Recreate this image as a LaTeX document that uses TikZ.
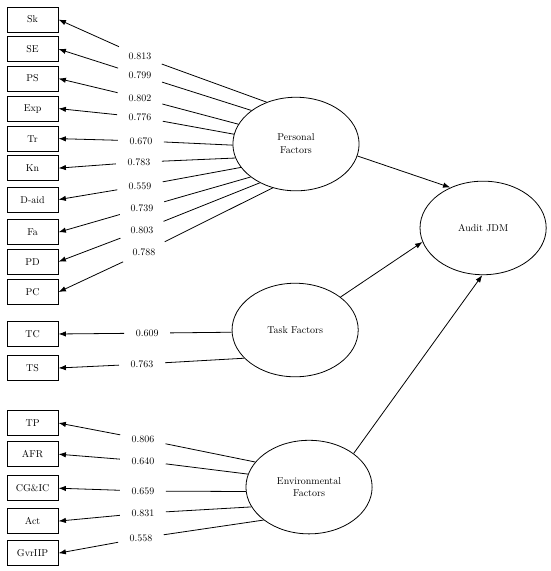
\documentclass[tikz,border=0pt]{standalone}
\usepackage{amsmath}
\usetikzlibrary{arrows, arrows.meta}
\usetikzlibrary{shapes.geometric}

\begin{document}
\begin{tikzpicture}[
    ind/.style={rectangle, draw, minimum width=1.8cm, minimum height=0.88cm, inner sep=0pt},
    lat/.style={ellipse, draw, minimum width=4.45cm, minimum height=3.3cm, inner sep=0pt, align=center},
    load/.style={circle, inner sep=0pt, minimum size=1.6cm},
    >={Latex[length=2.6mm, width=1.9mm]}, line width=0.8pt]
    \useasboundingbox (0,0) rectangle (19.40,-20.14);

    \node[ind] (Sk) at (1.15,-0.69) {Sk};
    \node[ind] (SE) at (1.15,-1.73) {SE};
    \node[ind] (PS) at (1.15,-2.77) {PS};
    \node[ind] (Exp) at (1.15,-3.83) {Exp};
    \node[ind] (Tr) at (1.15,-4.89) {Tr};
    \node[ind] (Kn) at (1.15,-5.93) {Kn};
    \node[ind] (Daid) at (1.15,-7.04) {D-aid};
    \node[ind] (Fa) at (1.15,-8.19) {Fa};
    \node[ind] (PD) at (1.15,-9.23) {PD};
    \node[ind] (PC) at (1.15,-10.30) {PC};
    \node[ind] (TC) at (1.15,-11.78) {TC};
    \node[ind] (TS) at (1.15,-12.98) {TS};
    \node[ind] (TP) at (1.15,-14.92) {TP};
    \node[ind] (AFR) at (1.15,-16.02) {AFR};
    \node[ind] (CGIC) at (1.15,-17.22) {CG\&IC};
    \node[ind] (Act) at (1.15,-18.38) {Act};
    \node[ind] (GvrIIP) at (1.15,-19.51) {GvrIIP};

    \node[lat] (PF) at (10.44,-5.08) {Personal\\[1pt]Factors};
    \node[lat] (TF) at (10.41,-11.64) {Task Factors};
    \node[lat] (EF) at (10.90,-17.18) {Environmental\\[1pt]Factors};
    \node[lat] (JDM) at (17.04,-8.04) {Audit JDM};

    \node[load] (l1) at (4.94,-1.98) {0.813};
    \node[load] (l2) at (4.94,-2.65) {0.799};
    \node[load] (l3) at (4.94,-3.46) {0.802};
    \node[load] (l4) at (4.94,-4.13) {0.776};
    \node[load] (l5) at (4.97,-4.97) {0.670};
    \node[load] (l6) at (4.90,-5.72) {0.783};
    \node[load] (l7) at (4.94,-6.56) {0.559};
    \node[load] (l8) at (5.01,-7.34) {0.739};
    \node[load] (l9) at (5.01,-8.11) {0.803};
    \node[load] (l10) at (5.08,-8.89) {0.788};
    \node[load] (t1) at (5.19,-11.75) {0.609};
    \node[load] (t2) at (5.01,-12.84) {0.763};
    \node[load] (e1) at (5.04,-15.49) {0.806};
    \node[load] (e2) at (5.04,-16.26) {0.640};
    \node[load] (e3) at (5.04,-17.32) {0.659};
    \node[load] (e4) at (5.04,-18.10) {0.831};
    \node[load] (e5) at (4.97,-18.98) {0.558};

    \draw[->] (PF.125) -- (l1) -- (Sk.east);
    \draw[->] (PF.143) -- (l2) -- (SE.east);
    \draw[->] (PF.161) -- (l3) -- (PS.east);
    \draw[->] (PF.171) -- (l4) -- (Exp.east);
    \draw[->] (PF.181) -- (l5) -- (Tr.east);
    \draw[->] (PF.193) -- (l6) -- (Kn.east);
    \draw[->] (PF.203) -- (l7) -- (Daid.east);
    \draw[->] (PF.216) -- (l8) -- (Fa.east);
    \draw[->] (PF.227) -- (l9) -- (PD.east);
    \draw[->] (PF.242) -- (l10) -- (PC.east);

    \draw[->] (TF.182) -- (t1) -- (TC.east);
    \draw[->] (TF.209) -- (t2) -- (TS.east);

    \draw[->] (EF.155) -- (e1) -- (TP.east);
    \draw[->] (EF.168) -- (e2) -- (AFR.east);
    \draw[->] (EF.184) -- (e3) -- (CGIC.east);
    \draw[->] (EF.199) -- (e4) -- (Act.east);
    \draw[->] (EF.216) -- (e5) -- (GvrIIP.east);

    \draw[->] (PF.-11) -- (JDM.129);
    \draw[->] (TF.36) -- (JDM.193);
    \draw[->] (EF.37) -- (JDM.269);
\end{tikzpicture}
\end{document}
